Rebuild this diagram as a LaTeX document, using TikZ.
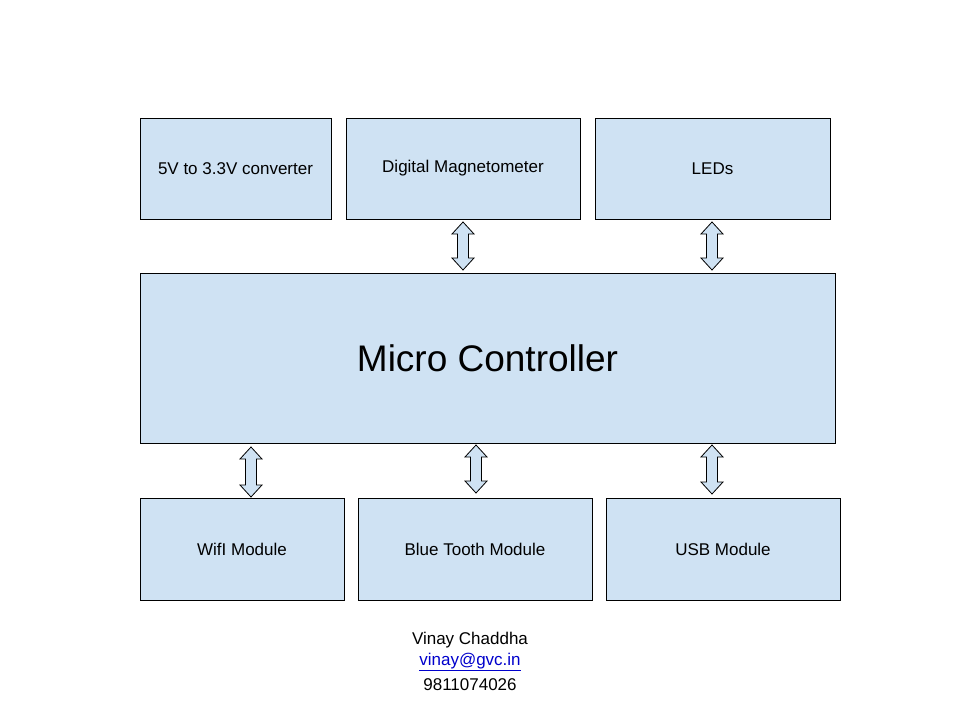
\documentclass[tikz,border=0pt]{standalone}
\usepackage{fontspec}
\setmainfont{Liberation Sans}
\definecolor{boxfill}{HTML}{CFE2F3}
\newcommand\dblarr[3]{%
\fill[boxfill,draw=black,line width=0.8pt,line join=miter]
 (#1,#2) -- ++(11,12) -- ++(-5.5,0) -- (#1+5.5,#3-12) -- ++(5.5,0) -- (#1,#3) -- ++(-11,-12) -- ++(5.5,0) -- (#1-5.5,#2+12) -- ++(-5.5,0) -- cycle;}
\begin{document}
\begin{tikzpicture}[x=1pt,y=-1pt,
  box/.style={draw=black,fill=boxfill,line width=0.8pt,inner sep=0pt,font=\fontsize{17}{20}\selectfont},
  txt/.style={font=\fontsize{17}{21}\selectfont}]
\useasboundingbox[fill=white] (0,0) rectangle (960,720);
\newcommand\bx[6]{\node[box,minimum width={#4-#2},minimum height={#5-#3}] (#1) at ({(#2+#4)/2},{(#3+#5)/2}) {#6};}
\bx{a}{140}{118}{331}{219}{5V to 3.3V converter}
\bx{b}{346}{118}{580}{219}{Digital Magnetometer}
\bx{c}{595}{118}{830}{219}{LEDs}
\node[box,minimum width=695,minimum height=170,font=\fontsize{37}{44}\selectfont] (mc) at (487.5,358) {Micro Controller};
\bx{d}{140}{498}{344}{600}{WifI Module}
\bx{e}{358}{498}{592}{600}{Blue Tooth Module}
\bx{f}{606}{498}{840}{600}{USB Module}
\dblarr{463}{222}{270}
\dblarr{712}{222}{270}
\dblarr{251}{447}{497}
\dblarr{476}{445}{493}
\dblarr{712}{445}{494}
\node[txt] (n1) at (470,640) {Vinay Chaddha};
\node[txt,text=blue!80!black] (n2) at (470,662) {\underline{vinay@gvc.in}};
\node[txt] (n3) at (470,685) {9811074026};
\end{tikzpicture}
\end{document}
